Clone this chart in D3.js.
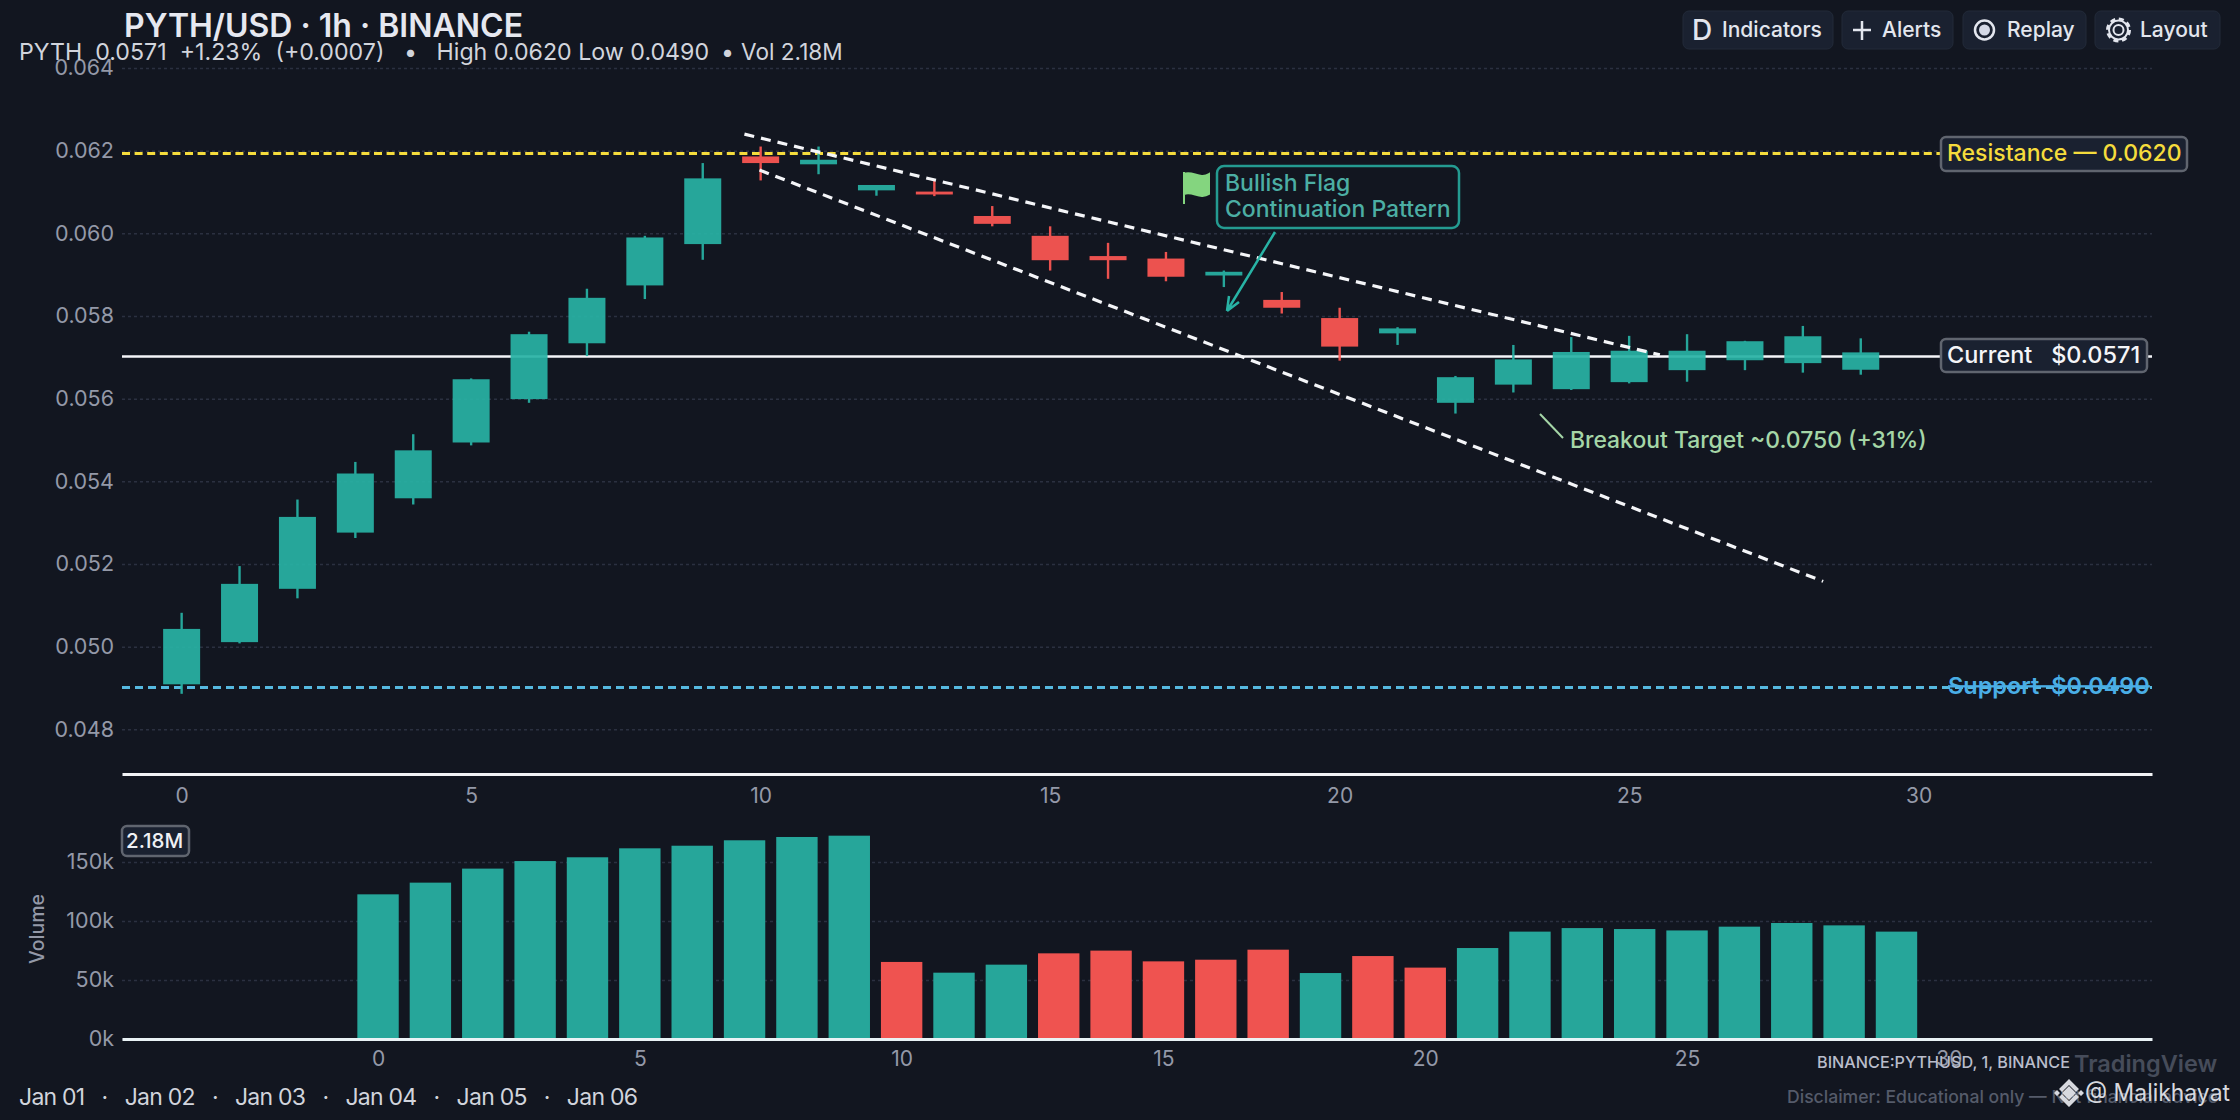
<!DOCTYPE html>
<html>
<head>
<meta charset="utf-8">
<title>PYTH/USD</title>
<script src="https://cdn.jsdelivr.net/npm/d3@7/dist/d3.min.js"></script>
<style>
  html, body { margin: 0; padding: 0; background: #121620; }
  svg { display: block; }
  text { font-family: Inter, "Noto Sans", sans-serif; }
</style>
</head>
<body>
<div id="chart"></div>
<script>
// candles
const candleIdx = d3.range(30)
const opens  = [0.04909, 0.05011, 0.05140, 0.05276, 0.05359, 0.05494, 0.05599, 0.05734, 0.05874, 0.05974,
                0.06186, 0.06167, 0.06104, 0.06101, 0.06042, 0.05994, 0.05945, 0.05939, 0.05898, 0.05839,
                0.05795, 0.05758, 0.05590, 0.05634, 0.05623, 0.05640, 0.05669, 0.05693, 0.05686, 0.05670]
const closes = [0.05043, 0.05152, 0.05314, 0.05419, 0.05475, 0.05647, 0.05756, 0.05844, 0.05990, 0.06133,
                0.06170, 0.06178, 0.06117, 0.06094, 0.06023, 0.05935, 0.05935, 0.05895, 0.05907, 0.05820,
                0.05726, 0.05770, 0.05652, 0.05695, 0.05713, 0.05716, 0.05716, 0.05739, 0.05751, 0.05712]
const highs  = [0.05082, 0.05195, 0.05356, 0.05447, 0.05514, 0.05649, 0.05762, 0.05866, 0.05994, 0.06170,
                0.06210, 0.06210, 0.06117, 0.06127, 0.06066, 0.06017, 0.05977, 0.05955, 0.05910, 0.05858,
                0.05820, 0.05773, 0.05655, 0.05730, 0.05749, 0.05752, 0.05756, 0.05740, 0.05776, 0.05746]
const lows   = [0.04886, 0.05008, 0.05117, 0.05263, 0.05344, 0.05487, 0.05590, 0.05703, 0.05841, 0.05936,
                0.06128, 0.06143, 0.06091, 0.06090, 0.06017, 0.05910, 0.05890, 0.05884, 0.05870, 0.05806,
                0.05692, 0.05730, 0.05564, 0.05615, 0.05621, 0.05637, 0.05641, 0.05669, 0.05663, 0.05658]
const volumes = [122.6, 132.5, 144.4, 150.8, 154, 161.6, 163.8, 168.4, 171.2, 172.3,
                 65.3, 56.2, 63, 72.6, 74.9, 65.8, 67.2, 75.7, 55.9, 70.3,
                 60.5, 77.1, 91, 94, 93.2, 92, 95.2, 98.3, 96.3, 91]

const priceTicks = [0.048, 0.050, 0.052, 0.054, 0.056, 0.058, 0.060, 0.062, 0.064]
const xTicks = [0, 5, 10, 15, 20, 25, 30]
const volTicks = [0, 50, 100, 150]
const dates = ["Jan 01", "Jan 02", "Jan 03", "Jan 04", "Jan 05", "Jan 06"]

const resistance = 0.06193
const current = 0.05702
const support = 0.04901
const flagTop = [[9.72, 0.0624], [25.53, 0.05706]]
const flagBottom = [[9.98, 0.06153], [28.35, 0.05158]]

const UP = "#28b3a5", DOWN = "#ff5854", GRID = "#2b3040", TICK = "#9499a8"
const width = 2240, height = 1120

const svg = d3.select("#chart").append("svg")
    .attr("width", width)
    .attr("height", height)
svg.append("rect").attr("width", width).attr("height", height).attr("fill", "#121620")

const left = 122, right = 2152

// set the ranges
const x = d3.scaleLinear().domain([-1.03, 34.03]).range([left, right])
const y = d3.scaleLinear().domain([0.04692, 0.064]).range([774, 68])
const xVol = d3.scaleLinear().domain([-4.89, 33.88]).range([left, right])
const yVol = d3.scaleLinear().domain([0, 150]).range([1039, 862])

// price axis and grid
const yAxis = svg.append("g")
    .attr("transform", `translate(${left},0)`)
    .call(d3.axisLeft(y).tickValues(priceTicks).tickFormat(d3.format(".3f")).tickSize(-(right - left)).tickPadding(8))
yAxis.select(".domain").remove()
yAxis.selectAll("line").attr("stroke", GRID).attr("stroke-width", 1.5).attr("stroke-dasharray", "3 3")
yAxis.selectAll("text").attr("fill", TICK).attr("font-size", 21.5).attr("font-family", "Inter")

const xAxis = svg.append("g")
    .attr("transform", `translate(0,${y.range()[0]})`)
    .call(d3.axisBottom(x).tickValues(xTicks).tickFormat(d3.format("d")).tickSize(0).tickPadding(14))
xAxis.select(".domain").attr("stroke", "#f2f3f6").attr("stroke-width", 3)
xAxis.selectAll("text").attr("fill", TICK).attr("font-size", 21).attr("font-family", "Inter")

// horizontal levels
const level = (value, x2, color, dash, w) => svg.append("line")
    .attr("x1", left).attr("x2", x2)
    .attr("y1", y(value)).attr("y2", y(value))
    .attr("stroke", color).attr("stroke-width", w).attr("stroke-dasharray", dash)
level(resistance, 1940, "#f5dc3c", "8 4.6", 3)
level(support, 2152, "#56b9e0", "8 5", 3)
level(current, 2152, "#f4f5f8", null, 2.5)

// candles
const candles = svg.append("g").attr("opacity", 0.92)
candles.selectAll(".wick").data(candleIdx).enter().append("line")
    .attr("x1", d => x(d)).attr("x2", d => x(d))
    .attr("y1", d => y(highs[d])).attr("y2", d => y(lows[d]))
    .attr("stroke", d => closes[d] >= opens[d] ? UP : DOWN)
    .attr("stroke-width", 2.4)
candles.selectAll(".body").data(candleIdx).enter().append("rect")
    .attr("x", d => x(d) - 18.5)
    .attr("width", 37)
    .attr("y", d => y(Math.max(opens[d], closes[d])))
    .attr("height", d => Math.max(1, Math.abs(y(opens[d]) - y(closes[d]))))
    .attr("fill", d => closes[d] >= opens[d] ? UP : DOWN)

// flag lines
const trend = d3.line().x(d => x(d[0])).y(d => y(d[1]))
;[flagTop, flagBottom].forEach(pts => {
  svg.append("path").attr("d", trend(pts))
     .attr("fill", "none").attr("stroke", "#f4f5f8")
     .attr("stroke-width", 3.2).attr("stroke-dasharray", "10 7")
})

// level labels
const badge = (x0, y0, w, h, txt, tx, ty, color, size) => {
  svg.append("rect").attr("x", x0).attr("y", y0).attr("width", w).attr("height", h).attr("rx", 5)
     .attr("fill", "#1a2130").attr("stroke", "#60656f").attr("stroke-width", 2.5)
  svg.append("text").attr("x", tx).attr("y", ty).attr("fill", color)
     .attr("font-size", size).attr("font-weight", 500).attr("xml:space", "preserve").text(txt)
}
badge(1941, 137, 246, 34, "Resistance — 0.0620", 1947, 161, "#f5dc3c", 23)
badge(1941, 339, 206, 33, "Current   $0.0571", 1947, 363, "#f4f5f8", 23.5)

svg.append("text").attr("x", 1948).attr("y", 694).attr("fill", "#4aaee6")
   .attr("font-size", 23.5).attr("font-weight", 600).attr("xml:space", "preserve")
   .attr("text-decoration", "line-through").text("Support  $0.0490")

// annotation
svg.append("path")
   .attr("d", "M1184 172V204M1184 174C1192 170 1200 180 1209 174V194C1200 200 1192 190 1184 194Z")
   .attr("fill", "#84d57f").attr("stroke", "#84d57f").attr("stroke-width", 2)
svg.append("rect").attr("x", 1217).attr("y", 166).attr("width", 242).attr("height", 62).attr("rx", 7)
   .attr("fill", "#121620").attr("stroke", UP).attr("stroke-width", 2.5).attr("opacity", 0.85)
svg.append("text").attr("x", 1225).attr("y", 191).attr("fill", "#4caea4").attr("font-size", 23).attr("font-weight", 500).text("Bullish Flag")
svg.append("text").attr("x", 1225).attr("y", 217).attr("fill", "#4caea4").attr("font-size", 23).attr("font-weight", 500).text("Continuation Pattern")
svg.append("path").attr("d", "M1275 232L1227 311M1227 311L1229 296M1227 311L1239 302")
   .attr("fill", "none").attr("stroke", UP).attr("stroke-width", 2.5)

svg.append("line").attr("x1", 1540).attr("y1", 414).attr("x2", 1563).attr("y2", 438)
   .attr("stroke", "#a5d6a7").attr("stroke-width", 2)
svg.append("text").attr("x", 1570).attr("y", 448).attr("fill", "#a5d6a7")
   .attr("font-size", 22.9).attr("font-weight", 500).text("Breakout Target ~0.0750 (+31%)")

// volume pane
const vAxis = svg.append("g")
    .attr("transform", `translate(${left},0)`)
    .call(d3.axisLeft(yVol).tickValues(volTicks).tickFormat(d => d + "k").tickSize(-(right - left)).tickPadding(8))
vAxis.select(".domain").remove()
vAxis.selectAll("line").attr("stroke", GRID).attr("stroke-width", 1.5).attr("stroke-dasharray", "3 3")
vAxis.selectAll("text").attr("fill", TICK).attr("font-size", 21.5).attr("font-family", "Inter")

svg.selectAll(".vol").data(candleIdx).enter().append("rect")
    .attr("x", d => xVol(d) - 20.7)
    .attr("width", 41.4)
    .attr("y", d => yVol(volumes[d]))
    .attr("height", d => yVol(0) - yVol(volumes[d]))
    .attr("fill", d => closes[d] >= opens[d] ? "#26a69a" : "#ef5350")

const vxAxis = svg.append("g")
    .attr("transform", `translate(0,${yVol(0)})`)
    .call(d3.axisBottom(xVol).tickValues(xTicks).tickFormat(d3.format("d")).tickSize(0).tickPadding(12))
vxAxis.select(".domain").attr("stroke", "#e9f2f5").attr("stroke-width", 3)
vxAxis.selectAll("text").attr("fill", TICK).attr("font-size", 21).attr("font-family", "Inter")

svg.append("text").attr("transform", "translate(44,929) rotate(-90)")
   .attr("text-anchor", "middle").attr("fill", TICK).attr("font-size", 19.5).attr("font-weight", 500).text("Volume")
badge(122, 826, 67, 30, "2.18M", 126, 848, "#f0f1f5", 20.5)

// header
svg.append("text").attr("x", 124).attr("y", 37).attr("fill", "#e6e8f0")
   .attr("font-size", 32).attr("font-weight", 600).text("PYTH/USD · 1h · BINANCE")
svg.append("text").attr("x", 19).attr("y", 60).attr("fill", "#d1d4dc").attr("font-size", 23.2)
   .attr("xml:space", "preserve")
   .text("PYTH  0.0571  +1.23%  (+0.0007)   •   High 0.0620 Low 0.0490")
svg.append("text").attr("x", 721).attr("y", 60).attr("fill", "#d1d4dc").attr("font-size", 23.2).text("•")
svg.append("text").attr("x", 741).attr("y", 60).attr("fill", "#d1d4dc").attr("font-size", 22.6).text("Vol 2.18M")

// toolbar
const buttons = [
  {label: "Indicators", x0: 1683, x1: 1833, tx: 1722},
  {label: "Alerts", x0: 1842, x1: 1953, tx: 1882},
  {label: "Replay", x0: 1963, x1: 2086, tx: 2007},
  {label: "Layout", x0: 2095, x1: 2220, tx: 2140}
]
buttons.forEach(b => {
  svg.append("rect").attr("x", b.x0).attr("y", 11).attr("width", b.x1 - b.x0).attr("height", 38).attr("rx", 6)
     .attr("fill", "#1a2130").attr("stroke", "#222a39")
  svg.append("text").attr("x", b.tx).attr("y", 37).attr("fill", "#e3e6ee")
     .attr("font-size", 21).attr("font-weight", 500).text(b.label)
})
svg.append("text").attr("x", 1692).attr("y", 40).attr("fill", "#e3e6ee").attr("font-size", 28).attr("font-weight", 500).text("D")
svg.append("path").attr("d", "M1862 21V40M1853 30H1871").attr("stroke", "#e3e6ee").attr("stroke-width", 2.5)
svg.append("circle").attr("cx", 1984.5).attr("cy", 30).attr("r", 9.5).attr("fill", "none").attr("stroke", "#e3e6ee").attr("stroke-width", 2.5)
svg.append("circle").attr("cx", 1984.5).attr("cy", 30).attr("r", 5.5).attr("fill", "#d5d9e6")
svg.append("circle").attr("cx", 2118.5).attr("cy", 30).attr("r", 5).attr("fill", "none").attr("stroke", "#e3e6ee").attr("stroke-width", 2)
svg.append("circle").attr("cx", 2118.5).attr("cy", 30).attr("r", 9.5).attr("fill", "none").attr("stroke", "#e3e6ee").attr("stroke-width", 2)
svg.append("circle").attr("cx", 2118.5).attr("cy", 30).attr("r", 11).attr("fill", "none").attr("stroke", "#e3e6ee").attr("stroke-width", 3).attr("stroke-dasharray", "5 3.64")

// date strip
svg.append("text").attr("x", 19).attr("y", 1105).attr("fill", "#d1d4dc").attr("font-size", 23)
   .attr("xml:space", "preserve").attr("textLength", 619)
   .text(dates.join("   ·   "))

// footer
svg.append("text").attr("x", 2074).attr("y", 1072).attr("fill", "#464c5a").attr("font-size", 23.5).attr("font-weight", 600).text("TradingView")
svg.append("text").attr("x", 1817).attr("y", 1068).attr("fill", "#b9bdcb").attr("font-size", 16.2).attr("font-weight", 500).text("BINANCE:PYTHUSD, 1, BINANCE")
svg.append("text").attr("x", 1787).attr("y", 1103).attr("fill", "#555b6a").attr("font-size", 17.6).attr("font-weight", 500).text("Disclaimer: Educational only — Not financial advice")
svg.append("path")
   .attr("d", "M2064 1094l7-7 7 7-7 7zM2056 1094l3-3 3 3-3 3zM2080 1094l3-3 3 3-3 3zM2071 1080l10 10-3 3-7-7-7 7-3-3zM2071 1108l10-10-3-3-7 7-7-7-3 3z")
   .attr("transform", "translate(-2,-1)")
   .attr("fill", "#d7d9df")
svg.append("text").attr("x", 2085).attr("y", 1101).attr("fill", "#d7d9df").attr("font-size", 24)
   .attr("textLength", 145).attr("lengthAdjust", "spacingAndGlyphs").text("@ Malikhayat")
</script>
</body>
</html>
